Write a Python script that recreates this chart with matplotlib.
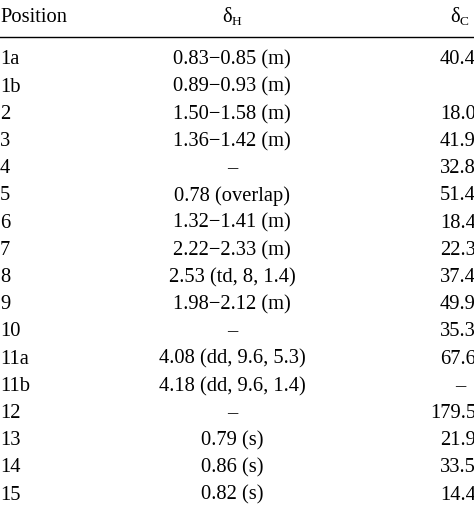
import matplotlib
matplotlib.use("Agg")
import matplotlib.pyplot as plt

plt.rcParams['font.family'] = ['Liberation Serif', 'DejaVu Serif']

positions = ["1a","1b","2","3","4","5","6","7","8","9","10","11a","11b","12","13","14","15"]
delta_h = ["0.83\u22120.85 (m)","0.89\u22120.93 (m)","1.50\u22121.58 (m)","1.36\u22121.42 (m)","\u2013",
           "0.78 (overlap)","1.32\u22121.41 (m)","2.22\u22122.33 (m)","2.53 (td, 8, 1.4)","1.98\u22122.12 (m)",
           "\u2013","4.08 (dd, 9.6, 5.3)","4.18 (dd, 9.6, 1.4)","\u2013","0.79 (s)","0.86 (s)","0.82 (s)"]
delta_c = ["40.4","","18.0","41.9","32.8","51.4","18.4","22.3","37.4","49.9","35.3","67.6","\u2013",
           "179.5","21.9","33.5","14.4"]

W, H = 474, 514
fig = plt.figure(figsize=(W/100, H/100), dpi=100)
ax = fig.add_axes([0, 0, 1, 1])
ax.set_xlim(0, W); ax.set_ylim(H, 0); ax.axis('off')

fs = 14.8
ax.text(0, 17, "Position", fontsize=fs, va='center', ha='left')
ax.text(232, 17, "\u03b4", fontsize=fs, va='center', ha='right')
ax.text(232, 22, "H", fontsize=fs*0.65, va='center', ha='left')
ax.text(460, 17, "\u03b4", fontsize=fs, va='center', ha='right')
ax.text(460, 22, "C", fontsize=fs*0.65, va='center', ha='left')
ax.plot([0, W], [37, 37], color='black', lw=1)

y0, dy = 60, 27.2
for i, (p, h, c) in enumerate(zip(positions, delta_h, delta_c)):
    y = y0 + i*dy
    ax.text(0, y, p, fontsize=fs, va='center', ha='left')
    ax.text(232, y, h, fontsize=fs, va='center', ha='center')
    if c == "\u2013":
        ax.text(460, y, c, fontsize=fs, va='center', ha='center')
    elif c:
        ax.text(476, y, c, fontsize=fs, va='center', ha='right')

fig.savefig("out.png", dpi=100)
